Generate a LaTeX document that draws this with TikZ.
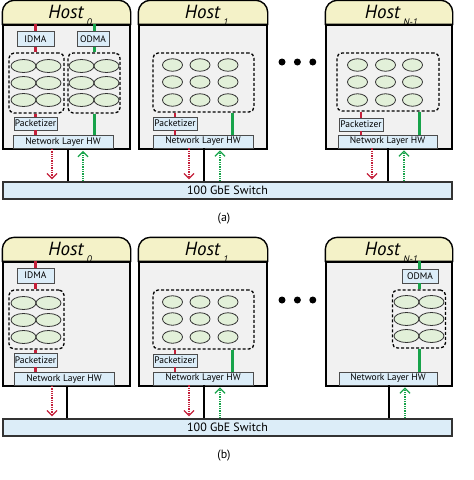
\documentclass[tikz,border=0pt]{standalone}
\usepackage{fontspec}
\setmainfont{PT Sans}
\usetikzlibrary{arrows.meta,positioning,calc,shapes.geometric}
\definecolor{capyellow}{HTML}{F4F2C8}
\definecolor{bodygray}{HTML}{F1F1F1}
\definecolor{hwblue}{HTML}{DCEDF8}
\definecolor{fifogreen}{HTML}{E2F0D9}
\definecolor{rxred}{HTML}{C4203A}
\definecolor{txgreen}{HTML}{17A34A}
\tikzset{
hostbody/.style={draw=black,line width=1.4pt,fill=bodygray,inner sep=0pt,minimum height=124pt},
hostcap/.style={draw=black,line width=1.4pt,fill=capyellow},
hosttitle/.style={font=\fontsize{19}{19}\selectfont\itshape,inner sep=0pt},
hostsub/.style={font=\fontsize{9.5}{9.5}\selectfont\itshape,inner sep=0pt},
hwbox/.style={draw=black!70,line width=0.8pt,fill=hwblue,inner sep=0pt,font=\fontsize{9.5}{9.5}\selectfont},
fifo/.style={ellipse,draw=black!80,line width=0.8pt,fill=fifogreen,inner sep=0pt,minimum height=13pt},
fifogroup/.style={draw=black,line width=1.3pt,dash pattern=on 3pt off 2pt,rounded corners=5pt,inner sep=0pt},
rxpath/.style={draw=rxred,line width=2.6pt},
txpath/.style={draw=txgreen,line width=3pt},
uplink/.style={draw=black,line width=2.6pt},
rxarr/.style={rxred,line width=1.3pt,densely dotted,-{Straight Barb[length=5pt,width=10pt,line width=1.3pt]},shorten >=2pt},
txarr/.style={txgreen,line width=1.3pt,densely dotted,-{Straight Barb[length=5pt,width=10pt,line width=1.3pt]},shorten >=2pt},
switchbox/.style={hwbox,line width=1.2pt,draw=black!80,minimum width=449pt,minimum height=17pt,font=\fontsize{12}{12}\selectfont},
caption/.style={font=\fontsize{12}{12}\selectfont},
hostdot/.style={circle,fill=black,inner sep=0pt,minimum size=7pt},
}

\begin{document}
\begin{tikzpicture}[x=1pt,y=-1pt]
\useasboundingbox (0,0) rectangle (474,480);

% ---------------- (a) ----------------
\begin{scope}
    % host 0
    \node[hostbody,minimum width=127pt] (ha0) at (66.5,87) {};
    \draw[hostcap] (ha0.north west) [rounded corners=12pt] -- ++(0,-24) -- ($(ha0.north east)+(0,-24)$) [sharp corners] -- (ha0.north east) -- cycle;
    \node[hosttitle,anchor=base] (ta0) at (66,18) {Host};
    \node[hostsub,anchor=base west] (sa0) at ([xshift=3pt,yshift=-7pt]ta0.base east) {0};
    \node[hwbox,minimum width=37pt,minimum height=15pt] (ida0) at (35.5,39) {IDMA};
    \node[hwbox,minimum width=32pt,minimum height=15pt] (oda0) at (93,39) {ODMA};
    \node[fifogroup,minimum width=55pt,minimum height=60pt] (gla0) at (36.5,83) {};
    \node[fifogroup,minimum width=52pt,minimum height=60pt] (gra0) at (94,83) {};
    \foreach \c/\x in {1/23.5,2/48.5}
        \foreach \r/\y in {1/66,2/83,3/100}
            \node[fifo,minimum width=25pt] (fla0-\c-\r) at (\x,\y) {};
    \foreach \c/\x in {1/81.5,2/106.5}
        \foreach \r/\y in {1/66,2/83,3/100}
            \node[fifo,minimum width=25pt] (fra0-\c-\r) at (\x,\y) {};
    \node[hwbox,minimum width=43pt,minimum height=13pt] (pka0) at (35.5,123.5) {Packetizer};
    \node[hwbox,minimum width=100pt,minimum height=13pt] (nla0) at (63,142) {Network Layer HW};
    \draw[rxpath] (ida0.north |- ha0.north) -- (ida0.north);
    \draw[rxpath] (ida0.south) -- (ida0.south |- gla0.north);
    \draw[rxpath] (pka0.north |- gla0.south) -- (pka0.north);
    \draw[rxpath] (pka0.south) -- (pka0.south |- nla0.north);
    \draw[txpath] (gra0.north |- ha0.north) -- (gra0.north |- oda0.north);
    \draw[txpath] (gra0.north |- oda0.south) -- (gra0.north);
    \draw[txpath] (gra0.south) -- (gra0.south |- nla0.north);

    % host 1
    \node[hostbody,minimum width=128pt] (ha1) at (203,87) {};
    \draw[hostcap] (ha1.north west) [rounded corners=12pt] -- ++(0,-24) -- ($(ha1.north east)+(0,-24)$) [sharp corners] -- (ha1.north east) -- cycle;
    \node[hosttitle,anchor=base] (ta1) at (202.5,18) {Host};
    \node[hostsub,anchor=base west] (sa1) at ([xshift=3pt,yshift=-7pt]ta1.base east) {1};
    \node[fifogroup,minimum width=101pt,minimum height=59pt] (ga1) at (203.5,82.5) {};
    \foreach \c/\x in {1/172.5,2/200,3/228}
        \foreach \r/\y in {1/65,2/82,3/100}
            \node[fifo,minimum width=20pt,minimum height=12.5pt] (fa1-\c-\r) at (\x,\y) {};
    \node[hwbox,minimum width=44pt,minimum height=13pt] (pka1) at (175,123.5) {Packetizer};
    \node[hwbox,minimum width=100pt,minimum height=13pt] (nla1) at (203,141.5) {Network Layer HW};
    \draw[rxpath] (pka1.north |- ga1.south) -- (pka1.north);
    \draw[rxpath] (pka1.south) -- (pka1.south |- nla1.north);
    \draw[txpath] ([xshift=-22pt]ga1.south east) -- ([xshift=-22pt]ga1.south east |- nla1.north);

    % dots
    \node[hostdot] (da1) at (282,62) {};
    \node[hostdot,right=8pt of da1] (da2) {};
    \node[hostdot,right=8pt of da2] (da3) {};

    % host N-1
    \node[hostbody,minimum width=126pt] (han) at (389,87) {};
    \draw[hostcap] (han.north west) [rounded corners=12pt] -- ++(0,-24) -- ($(han.north east)+(0,-24)$) [sharp corners] -- (han.north east) -- cycle;
    \node[hosttitle,anchor=base] (tan) at (382.5,18) {Host};
    \node[hostsub,anchor=base west] (san) at ([xshift=3pt,yshift=-7pt]tan.base east) {N-1};
    \node[fifogroup,minimum width=102pt,minimum height=58pt] (gan) at (388,82) {};
    \foreach \c/\x in {1/357.5,2/385.5,3/412.5}
        \foreach \r/\y in {1/65,2/82,3/100}
            \node[fifo,minimum width=20pt,minimum height=12.5pt] (fan-\c-\r) at (\x,\y) {};
    \node[hwbox,minimum width=44pt,minimum height=13pt] (pkan) at (361,124.5) {Packetizer};
    \node[hwbox,minimum width=99pt,minimum height=13pt] (nlan) at (387.5,141.5) {Network Layer HW};
    \draw[rxpath] (pkan.north |- gan.south) -- (pkan.north);
    \draw[rxpath] (pkan.south) -- (pkan.south |- nlan.north);
    \draw[txpath] ([xshift=-20pt]gan.south east) -- ([xshift=-20pt]gan.south east |- nlan.north);

    % switch
    \node[switchbox] (swa) at (227.5,190.5) {100 GbE Switch};
    \draw[rxarr] ([xshift=-11pt]nla0.south) -- ([xshift=-11pt]nla0.south |- swa.north);
    \draw[uplink] ([xshift=5pt]nla0.south) -- ([xshift=5pt]nla0.south |- swa.north);
    \draw[txarr] ([xshift=20pt]nla0.south |- swa.north) -- ([xshift=20pt]nla0.south);
    \draw[rxarr] ([xshift=-14pt]nla1.south) -- ([xshift=-14pt]nla1.south |- swa.north);
    \draw[uplink] ([xshift=1pt]nla1.south) -- ([xshift=1pt]nla1.south |- swa.north);
    \draw[txarr] ([xshift=17pt]nla1.south |- swa.north) -- ([xshift=17pt]nla1.south);
    \draw[rxarr] ([xshift=-15.5pt]nlan.south) -- ([xshift=-15.5pt]nlan.south |- swa.north);
    \draw[uplink] ([xshift=0.5pt]nlan.south) -- ([xshift=0.5pt]nlan.south |- swa.north);
    \draw[txarr] ([xshift=16.5pt]nlan.south |- swa.north) -- ([xshift=16.5pt]nlan.south);

    \node[caption] (capa) at (224,219) {(a)};
\end{scope}

% ---------------- (b) ----------------
\begin{scope}[shift={(0,237)}]
    % host 0
    \node[hostbody,minimum width=127pt] (hb0) at (66.5,87) {};
    \draw[hostcap] (hb0.north west) [rounded corners=12pt] -- ++(0,-24) -- ($(hb0.north east)+(0,-24)$) [sharp corners] -- (hb0.north east) -- cycle;
    \node[hosttitle,anchor=base] (tb0) at (66,18) {Host};
    \node[hostsub,anchor=base west] (sb0) at ([xshift=3pt,yshift=-7pt]tb0.base east) {0};
    \node[hwbox,minimum width=37pt,minimum height=15pt] (idb0) at (35.5,38.5) {IDMA};
    \node[fifogroup,minimum width=55pt,minimum height=59pt] (gb0) at (36.5,82.5) {};
    \foreach \c/\x in {1/23.5,2/48.5}
        \foreach \r/\y in {1/66,2/83,3/100}
            \node[fifo,minimum width=25pt] (fb0-\c-\r) at (\x,\y) {};
    \node[hwbox,minimum width=43pt,minimum height=14pt] (pkb0) at (35.5,123) {Packetizer};
    \node[hwbox,minimum width=100pt,minimum height=13pt] (nlb0) at (64,142) {Network Layer HW};
    \draw[rxpath] (idb0.north |- hb0.north) -- (idb0.north);
    \draw[rxpath] (idb0.south) -- (idb0.south |- gb0.north);
    \draw[rxpath] (pkb0.north |- gb0.south) -- (pkb0.north);
    \draw[rxpath] (pkb0.south) -- (pkb0.south |- nlb0.north);

    % host 1
    \node[hostbody,minimum width=128pt] (hb1) at (203,87) {};
    \draw[hostcap] (hb1.north west) [rounded corners=12pt] -- ++(0,-24) -- ($(hb1.north east)+(0,-24)$) [sharp corners] -- (hb1.north east) -- cycle;
    \node[hosttitle,anchor=base] (tb1) at (202.5,18) {Host};
    \node[hostsub,anchor=base west] (sb1) at ([xshift=3pt,yshift=-7pt]tb1.base east) {1};
    \node[fifogroup,minimum width=101pt,minimum height=59pt] (gb1) at (203.5,82.5) {};
    \foreach \c/\x in {1/172.5,2/200,3/228}
        \foreach \r/\y in {1/65,2/82,3/100}
            \node[fifo,minimum width=20pt,minimum height=12.5pt] (fb1-\c-\r) at (\x,\y) {};
    \node[hwbox,minimum width=44pt,minimum height=13pt] (pkb1) at (175,123.5) {Packetizer};
    \node[hwbox,minimum width=100pt,minimum height=13pt] (nlb1) at (203,141.5) {Network Layer HW};
    \draw[rxpath] (pkb1.north |- gb1.south) -- (pkb1.north);
    \draw[rxpath] (pkb1.south) -- (pkb1.south |- nlb1.north);
    \draw[txpath] ([xshift=-22pt]gb1.south east) -- ([xshift=-22pt]gb1.south east |- nlb1.north);

    % dots
    \node[hostdot] (db1) at (282,63) {};
    \node[hostdot,right=8pt of db1] (db2) {};
    \node[hostdot,right=8pt of db2] (db3) {};

    % host N-1
    \node[hostbody,minimum width=126pt] (hbn) at (389,87) {};
    \draw[hostcap] (hbn.north west) [rounded corners=12pt] -- ++(0,-24) -- ($(hbn.north east)+(0,-24)$) [sharp corners] -- (hbn.north east) -- cycle;
    \node[hosttitle,anchor=base] (tbn) at (382.5,18) {Host};
    \node[hostsub,anchor=base west] (sbn) at ([xshift=3pt,yshift=-7pt]tbn.base east) {N-1};
    \node[hwbox,minimum width=36pt,minimum height=14pt] (odbn) at (420,39) {ODMA};
    \node[fifogroup,minimum width=53pt,minimum height=58pt] (gbn) at (419,82) {};
    \foreach \c/\x in {1/406.5,2/431.5}
        \foreach \r/\y in {1/65,2/82,3/99}
            \node[fifo,minimum width=25pt] (fbn-\c-\r) at (\x,\y) {};
    \node[hwbox,minimum width=98pt,minimum height=13pt] (nlbn) at (388,141.5) {Network Layer HW};
    \draw[txpath] (gbn.north |- hbn.north) -- (gbn.north |- odbn.north);
    \draw[txpath] (gbn.north |- odbn.south) -- (gbn.north);
    \draw[txpath] (gbn.south) -- (gbn.south |- nlbn.north);

    % switch
    \node[switchbox] (swb) at (227.5,190.5) {100 GbE Switch};
    \draw[rxarr] ([xshift=-12pt]nlb0.south) -- ([xshift=-12pt]nlb0.south |- swb.north);
    \draw[uplink] ([xshift=3pt]nlb0.south) -- ([xshift=3pt]nlb0.south |- swb.north);
    \draw[rxarr] ([xshift=-14pt]nlb1.south) -- ([xshift=-14pt]nlb1.south |- swb.north);
    \draw[uplink] ([xshift=1pt]nlb1.south) -- ([xshift=1pt]nlb1.south |- swb.north);
    \draw[txarr] ([xshift=17pt]nlb1.south |- swb.north) -- ([xshift=17pt]nlb1.south);
    \draw[uplink] ([xshift=1pt]nlbn.south) -- ([xshift=1pt]nlbn.south |- swb.north);
    \draw[txarr] ([xshift=17pt]nlbn.south |- swb.north) -- ([xshift=17pt]nlbn.south);

    \node[caption] (capb) at (224,219) {(b)};
\end{scope}
\end{tikzpicture}
\end{document}
